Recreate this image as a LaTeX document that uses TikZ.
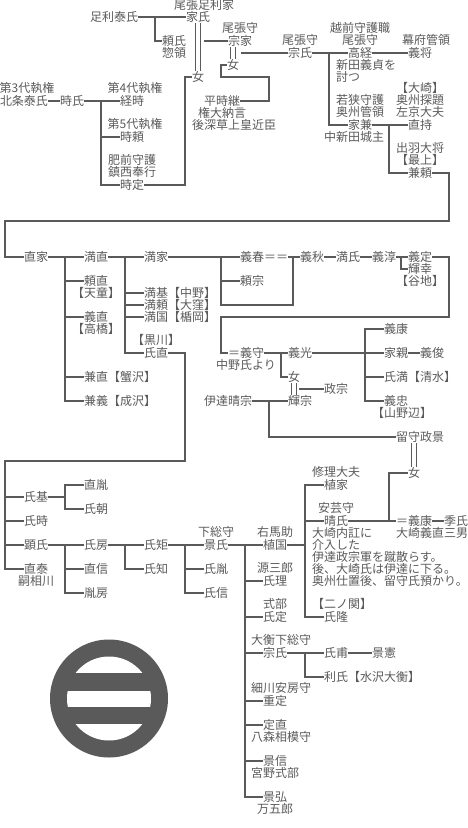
\documentclass[tikz,border=0pt]{standalone}
\usepackage{fontspec}
\usepackage{xcolor}
\usepackage{tikz}
\usetikzlibrary{positioning}
\newfontfamily\jpfont{Noto Sans CJK JP}
\definecolor{inkgray}{HTML}{5A5A5A}

\begin{document}
\begin{tikzpicture}[x=1pt, y=-1pt, node distance=0pt, inkgray]
        \tikzstyle{person} = [inner sep=0pt, text height=10pt, text depth=2pt, font=\jpfont\fontsize{12}{12}\selectfont]
        \tikzstyle{note} = [inner sep=0pt, align=center, font=\jpfont\fontsize{12}{12}\selectfont]
        \tikzstyle{line} = [draw, line width=2pt]
        \tikzstyle{twin} = [draw, line width=1pt, double=white, double distance=4pt]

        \useasboundingbox (0,0) rectangle (468,828);

        \node [person] (yasuuji) at (114,17) {足利泰氏};
        \node [person] (ieuji) at (198,17) {家氏};
        \node [note, above=0pt of ieuji, xshift=6pt] (ieujit) {尾張足利家};
        \node [person] (yoriuji) at (174,41) {頼氏};
        \node [note, below=0pt of yoriuji] (yoriujit) {惣領};
        \node [person] (onnaa) at (198,77) {女};
        \node [person] (yasutoki) at (24,101) {北条泰氏};
        \node [note, above=1pt of yasutoki, xshift=3pt] (yasutokit) {第3代執権};
        \node [person] (tokiuji) at (72,101) {時氏};
        \node [person] (tsunetoki) at (132,101) {経時};
        \node [note, above=1pt of tsunetoki, xshift=3pt] (tsunetokit) {第4代執権};
        \node [person] (tokiyori) at (132,137) {時頼};
        \node [note, above=1pt of tokiyori, xshift=3pt] (tokiyorit) {第5代執権};
        \node [person] (tokisada) at (132,185) {時定};
        \node [note, above=1pt of tokisada] (tokisadat) {肥前守護\\鎮西奉行};

        \node [person] (munie) at (240,41) {宗家};
        \node [note, above=1pt of munie] (muniet) {尾張守};
        \node [person] (onnab) at (233,65) {女};
        \node [person] (tokitsugu) at (222,101) {平時継};
        \node [note, below=0pt of tokitsugu] (tokitsugut) {権大納言};
        \node [note, below=0pt of tokitsugut, xshift=12pt] (tokitsugus) {後深草上皇近臣};
        \node [person] (muneuji) at (300,53) {宗氏};
        \node [note, above=1pt of muneuji] (muneujit) {尾張守};
        \node [person] (takatsune) at (360,53) {高経};
        \node [note, above=1pt of takatsune] (takatsunet) {越前守護職\\尾張守};
        \node [note, below=0pt of takatsune, xshift=6pt, align=left] (takatsunes) {新田義貞を\\討つ};
        \node [person] (yoshimasa) at (420,53) {義将};
        \node [note, above=1pt of yoshimasa, xshift=6pt] (yoshimasat) {幕府管領};
        \node [person] (iekane) at (360,125) {家兼};
        \node [note, above=1pt of iekane] (iekanet) {若狭守護\\奥州管領};
        \node [note, below=0pt of iekane, xshift=-6pt] (iekanes) {中新田城主};
        \node [person] (naomochi) at (420,125) {直持};
        \node [note, above=1pt of naomochi] (naomochit) {【大崎】\\奥州探題\\左京大夫};
        \node [person] (kaneyori) at (420,173) {兼頼};
        \node [note, above=1pt of kaneyori] (kaneyorit) {出羽大将\\【最上】};

        \node [person] (naoie) at (36,257) {直家};
        \node [person] (mitsunao) at (96,257) {満直};
        \node [person] (mitsuie) at (156,257) {満家};
        \node [person] (yoshiharu) at (264,257) {義春＝＝};
        \node [person] (yoshiaki) at (312,257) {義秋};
        \node [person] (mitsuuji) at (348,257) {満氏};
        \node [person] (yoshiatsu) at (384,257) {義淳};
        \node [person] (yoshisada) at (420,257) {義定};
        \node [person] (teruyuki) at (420,269) {輝幸};
        \node [note, below=0pt of teruyuki] (teruyukis) {【谷地】};
        \node [person] (yorimune) at (252,281) {頼宗};
        \node [person] (yorinao) at (96,281) {頼直};
        \node [note, below=0pt of yorinao] (yorinaos) {【天童】};
        \node [person] (yoshinao) at (96,317) {義直};
        \node [note, below=0pt of yoshinao] (yoshinaos) {【高橋】};
        \node [person, anchor=west] (kanenao) at (84,377) {兼直【蟹沢】};
        \node [person, anchor=west] (kaneyoshi) at (84,401) {兼義【成沢】};
        \node [person, anchor=west] (mitsumoto) at (144,293) {満基【中野】};
        \node [person, anchor=west] (mitsuyori) at (144,305) {満頼【大窪】};
        \node [person, anchor=west] (mitsukuni) at (144,317) {満国【楯岡】};
        \node [person] (ujinao) at (156,353) {氏直};
        \node [note, above=1pt of ujinao] (ujinaot) {【黒川】};

        \node [person] (yoshimori) at (246,353) {＝義守};
        \node [note, below=0pt of yoshimori] (yoshimoris) {中野氏より};
        \node [person] (yoshimitsu) at (300,353) {義光};
        \node [person] (yoshiyasu) at (396,329) {義康};
        \node [person] (iechika) at (396,353) {家親};
        \node [person] (yoshitoshi) at (432,353) {義俊};
        \node [person, anchor=west] (ujimitsu) at (384,377) {氏満【清水】};
        \node [person] (yoshitada) at (396,401) {義忠};
        \node [note, below=0pt of yoshitada, xshift=6pt] (yoshitadas) {【山野辺】};
        \node [person] (onnac) at (294,377) {女};
        \node [person] (masamune) at (336,389) {政宗};
        \node [person] (terumune) at (300,401) {輝宗};
        \node [person] (harumune) at (228,401) {伊達晴宗};
        \node [person] (masakage) at (420,437) {留守政景};
        \node [person] (onnad) at (414,473) {女};

        \node [person] (ujimoto) at (36,497) {氏基};
        \node [person] (naotane) at (96,485) {直胤};
        \node [person] (ujitomo) at (96,509) {氏朝};
        \node [person] (ujitoki) at (36,521) {氏時};
        \node [person] (akiuji) at (36,545) {顕氏};
        \node [person] (naoyasu) at (36,569) {直泰};
        \node [note, below=0pt of naoyasu] (naoyasus) {嗣相川};
        \node [person] (ujifusa) at (96,545) {氏房};
        \node [person] (naonobu) at (96,569) {直信};
        \node [person] (tanefusa) at (96,593) {胤房};
        \node [person] (ujinori) at (156,545) {氏矩};
        \node [person] (ujitomob) at (156,569) {氏知};
        \node [person] (kageuji) at (216,545) {景氏};
        \node [note, above=1pt of kageuji] (kageujit) {下総守};
        \node [person] (ujitane) at (216,569) {氏胤};
        \node [person] (ujinobu) at (216,593) {氏信};
        \node [person] (tanekuni) at (275,545) {植国};
        \node [note, above=1pt of tanekuni] (tanekunit) {右馬助};
        \node [person] (ujimasa) at (275,581) {氏理};
        \node [note, above=1pt of ujimasa] (ujimasat) {源三郎};
        \node [person] (ujisada) at (275,617) {氏定};
        \node [note, above=1pt of ujisada] (ujisadat) {式部};
        \node [person] (muneujib) at (275,653) {宗氏};
        \node [note, above=1pt of muneujib, xshift=6pt] (muneujibt) {大衡下総守};
        \node [person] (shigesada) at (275,701) {重定};
        \node [note, above=1pt of shigesada, xshift=6pt] (shigesadat) {細川安房守};
        \node [person] (sadanao) at (275,725) {定直};
        \node [note, below=0pt of sadanao, xshift=6pt] (sadanaos) {八森相模守};
        \node [person] (kagenobu) at (275,761) {景信};
        \node [note, below=0pt of kagenobu] (kagenobus) {宮野式部};
        \node [person] (kagehiro) at (275,797) {景弘};
        \node [note, below=0pt of kagehiro] (kagehiros) {万五郎};
        \node [person] (taneie) at (336,485) {植家};
        \node [note, above=1pt of taneie] (taneiet) {修理大夫};
        \node [person] (haruuji) at (336,521) {晴氏};
        \node [note, above=1pt of haruuji] (haruujit) {安芸守};
        \node [note, below=0pt of haruuji, xshift=54pt, align=left, text width=156pt] (haruujis) {大崎内訌に\\介入した\\伊達政宗軍を蹴散らす。\\後、大崎氏は伊達に下る。\\奥州仕置後、留守氏預かり。};
        \node [person] (ujitaka) at (336,617) {氏隆};
        \node [note, above=1pt of ujitaka, xshift=6pt] (ujitakat) {【二ノ関】};
        \node [person] (yoshiyasub) at (414,521) {＝義康};
        \node [person] (sueuji) at (456,521) {季氏};
        \node [note, below=0pt of yoshiyasub, xshift=18pt] (yoshiyasubs) {大崎義直三男};
        \node [person] (ujisuke) at (336,653) {氏甫};
        \node [person] (kagenori) at (384,653) {景憲};
        \node [person, anchor=west] (toshiuji) at (324,677) {利氏【水沢大衡】};

        \coordinate (ja) at (155,17);
        \coordinate (jb) at (101,101);
        \coordinate (jc) at (185,185);
        \coordinate (jd) at (204,41);
        \coordinate (je) at (241,53);
        \coordinate (jf) at (221,77);
        \coordinate (jg) at (269,77);
        \coordinate (jh) at (329,53);
        \coordinate (ji) at (389,125);
        \coordinate (jj) at (449,221);
        \coordinate (jk) at (5,221);
        \coordinate (jl) at (65,257);
        \coordinate (jm) at (125,257);
        \coordinate (jn) at (221,257);
        \coordinate (jo) at (221,305);
        \coordinate (jp) at (293,305);
        \coordinate (jq) at (293,257);
        \coordinate (jr) at (401,257);
        \coordinate (js) at (449,317);
        \coordinate (jt) at (221,317);
        \coordinate (ju) at (281,353);
        \coordinate (jv) at (365,353);
        \coordinate (jw) at (299,389);
        \coordinate (jx) at (269,401);
        \coordinate (jy) at (185,461);
        \coordinate (jz) at (5,461);
        \coordinate (ka) at (65,497);
        \coordinate (kb) at (65,545);
        \coordinate (kc) at (125,545);
        \coordinate (kd) at (185,545);
        \coordinate (ke) at (245,545);
        \coordinate (kf) at (305,545);
        \coordinate (kg) at (389,521);
        \coordinate (kh) at (305,653);

        \path [line] (yasuuji) -- (ieuji);
        \path [line] (ja) |- (yoriuji);
        \path [twin] (ieuji.south) -- (onnaa.north);
        \path [line] (onnaa.west) -| (jc) -- (tokisada.east);
        \path [line] (yasutoki) -- (tokiuji);
        \path [line] (tokiuji) -- (tsunetoki);
        \path [line] (jb) |- (tokiyori);
        \path [line] (jb) |- (tokisada);
        \path [line] (jd) -- (munie);
        \path [twin] (onnab |- munie.south) -- (onnab.north);
        \path [line] (je) -- (muneuji);
        \path [line] (onnab.west) -| (jf) -- (jg) |- (tokitsugu.east);
        \path [line] (muneuji) -- (takatsune);
        \path [line] (takatsune) -- (yoshimasa);
        \path [line] (jh) |- (iekane);
        \path [line] (iekane) -- (naomochi);
        \path [line] (ji) |- (kaneyori);
        \path [line] (kaneyori.east) -| (jj) -- (jk) |- (naoie.west);
        \path [line] (naoie) -- (mitsunao);
        \path [line] (mitsunao) -- (mitsuie);
        \path [line] (mitsuie) -- (yoshiharu);
        \path [line] (yoshiharu) -- (yoshiaki);
        \path [line] (yoshiaki) -- (mitsuuji);
        \path [line] (mitsuuji) -- (yoshiatsu);
        \path [line] (yoshiatsu) -- (yoshisada);
        \path [line] (jr) |- (teruyuki);
        \path [line] (jl) |- (yorinao);
        \path [line] (jl) |- (yoshinao);
        \path [line] (jl) |- (kanenao.west);
        \path [line] (jl) |- (kaneyoshi.west);
        \path [line] (jm) |- (mitsumoto.west);
        \path [line] (jm) |- (mitsuyori.west);
        \path [line] (jm) |- (mitsukuni.west);
        \path [line] (jm) |- (ujinao);
        \path [line] (jn) |- (yorimune);
        \path [line] (jn) -- (jo) -- (jp) -- (jq);
        \path [line] (yoshisada.east) -| (js) -- (jt) |- (yoshimori.west);
        \path [line] (yoshimori) -- (yoshimitsu);
        \path [line] (yoshimitsu) -- (iechika);
        \path [line] (iechika) -- (yoshitoshi);
        \path [line] (jv) |- (yoshiyasu);
        \path [line] (jv) |- (ujimitsu.west);
        \path [line] (jv) |- (yoshitada);
        \path [line] (ju) |- (onnac);
        \path [twin] (onnac.south) -- (onnac |- terumune.north);
        \path [line] (jw) -- (masamune);
        \path [line] (harumune) -- (terumune);
        \path [line] (jx) |- (masakage);
        \path [twin] (onnad |- masakage.south) -- (onnad.north);
        \path [line] (ujinao.east) -| (jy) -- (jz) |- (naoyasu.west);
        \path [line] (jz) |- (ujimoto);
        \path [line] (jz) |- (ujitoki);
        \path [line] (jz) |- (akiuji);
        \path [line] (ujimoto) -- (ka);
        \path [line] (ka) |- (naotane);
        \path [line] (ka) |- (ujitomo);
        \path [line] (akiuji) -- (ujifusa);
        \path [line] (kb) |- (naonobu);
        \path [line] (kb) |- (tanefusa);
        \path [line] (ujifusa) -- (ujinori);
        \path [line] (kc) |- (ujitomob);
        \path [line] (ujinori) -- (kageuji);
        \path [line] (kd) |- (ujitane);
        \path [line] (kd) |- (ujinobu);
        \path [line] (kageuji) -- (tanekuni);
        \path [line] (ke) |- (ujimasa);
        \path [line] (ke) |- (ujisada);
        \path [line] (ke) |- (muneujib);
        \path [line] (ke) |- (shigesada);
        \path [line] (ke) |- (sadanao);
        \path [line] (ke) |- (kagenobu);
        \path [line] (ke) |- (kagehiro);
        \path [line] (tanekuni.east) -- (kf);
        \path [line] (kf) |- (taneie);
        \path [line] (kf) |- (haruuji);
        \path [line] (kf) |- (ujitaka);
        \path [line] (haruuji) -- (yoshiyasub);
        \path [line] (yoshiyasub) -- (sueuji);
        \path [line] (kg) |- (onnad);
        \path [line] (muneujib) -- (ujisuke);
        \path [line] (ujisuke) -- (kagenori);
        \path [line] (kh) |- (toshiuji.west);

        \fill (109,698.5) circle [radius=59pt];
        \fill [white] (109,698.5) circle [radius=42pt];
        \fill (64,673) rectangle (154,691);
        \fill (64,707) rectangle (154,724);
    \end{tikzpicture}
\end{document}
